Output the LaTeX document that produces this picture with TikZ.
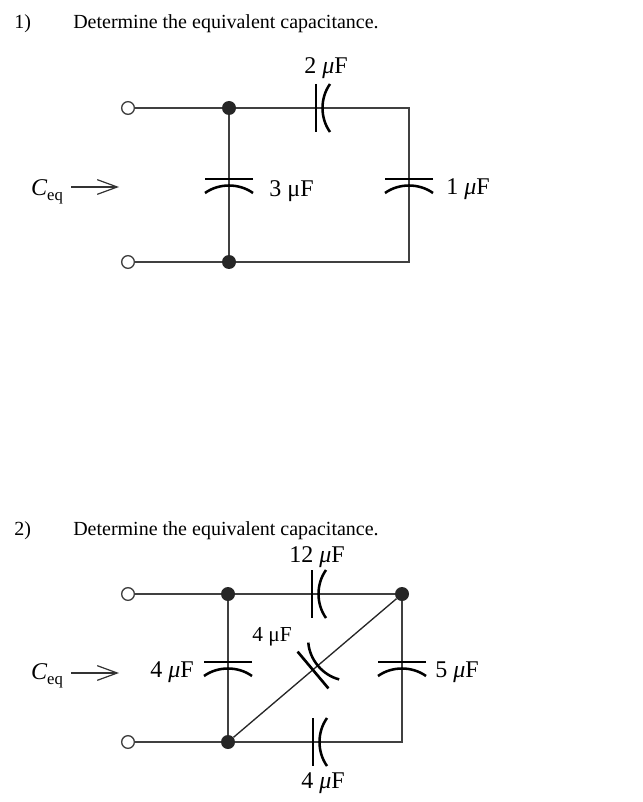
\documentclass[tikz,border=0pt]{standalone}
\usepackage{fontspec}
\setmainfont{Liberation Serif}
\usetikzlibrary{arrows.meta}
\newcommand{\muit}{{\itshape μ}}
\newcommand{\ceqlabel}{{\itshape C}\raisebox{-0.4ex}{\fontsize{12.5}{12.5}\selectfont eq}}
\tikzset{
    wire/.style={draw=black!75, line width=1.3pt},
    thinwire/.style={draw=black!85, line width=1pt},
    junction/.style={circle, fill=black!85, inner sep=0pt, minimum size=10.5pt},
    terminal/.style={circle, draw=black!75, fill=white, line width=1pt, inner sep=0pt, minimum size=9.5pt},
    label/.style={font=\fontsize{18}{20}\selectfont, inner sep=0pt},
    heading/.style={font=\fontsize{15}{18}\selectfont, anchor=west, inner sep=0pt},
    pics/capac/.style={code={
        \draw[line width=2pt] (0,-24) -- (0,24);
        \draw[line width=1.9pt] (14,-24) .. controls (4,-10) and (4,10) .. (14,24);
    }},
    eqarrow/.style={->, >={Straight Barb[length=15pt,width=11pt]}, draw=black!80, line width=0.9pt}
}
\begin{document}
\begin{tikzpicture}[x=0.75pt,y=-0.75pt]
    \useasboundingbox (0,0) rectangle (642,802);
    % first circuit
    \node[heading] (numa) at (14,24) {1)};
    \node[heading] (taska) at (73,24) {Determine the equivalent capacitance.};
    \node[terminal] (ta) at (128,108) {};
    \node[terminal] (tb) at (128,262) {};
    \node[junction] (ja) at (229,108) {};
    \node[junction] (jb) at (229,262) {};
    \coordinate (ra) at (409,108);
    \coordinate (rb) at (409,262);
    \draw[wire] (ta) -- (ja) -- (ra) -- (rb) -- (jb) -- (tb);
    \draw[wire] (ja) -- (jb);
    \pic at (316,108) {capac};
    \pic[rotate=-90] at (229,179) {capac};
    \pic[rotate=-90] at (409,179) {capac};
    \node[label] (capa) at (326,68) {2 \muit F};
    \node[label] (capb) at (291.5,191) {3 μF};
    \node[label] (capc) at (468,189) {1 \muit F};
    \node[label] (ceqa) at (47,192) {\ceqlabel};
    \coordinate (aa) at (71,187);
    \coordinate (ab) at (119,187);
    \draw[eqarrow] (aa) -- (ab);
    % second circuit
    \node[heading] (numb) at (14,531) {2)};
    \node[heading] (taskb) at (73,531) {Determine the equivalent capacitance.};
    \node[terminal] (tc) at (128,594) {};
    \node[terminal] (td) at (128,742) {};
    \node[junction] (jc) at (228,594) {};
    \node[junction] (jd) at (228,742) {};
    \node[junction] (je) at (402,594) {};
    \coordinate (rc) at (402,742);
    \draw[wire] (tc) -- (jc) -- (je) -- (rc) -- (jd) -- (td);
    \draw[wire] (jc) -- (jd);
    \draw[thinwire] (jd) -- (je);
    \pic at (312,594) {capac};
    \pic at (313,742) {capac};
    \pic[rotate=-90] at (228,662) {capac};
    \pic[rotate=-90] at (402,662) {capac};
    \pic[rotate=40] at (313,670) {capac};
    \node[label] (capd) at (317,557) {12 \muit F};
    \node[label, font=\fontsize{16}{20}\selectfont] (cape) at (272,637) {4 μF};
    \node[label] (capf) at (172,672) {4 \muit F};
    \node[label] (capg) at (457,672) {5 \muit F};
    \node[label] (caph) at (323,783) {4 \muit F};
    \node[label] (ceqb) at (47,676) {\ceqlabel};
    \coordinate (ac) at (71,673);
    \coordinate (ad) at (119,673);
    \draw[eqarrow] (ac) -- (ad);
\end{tikzpicture}
\end{document}
